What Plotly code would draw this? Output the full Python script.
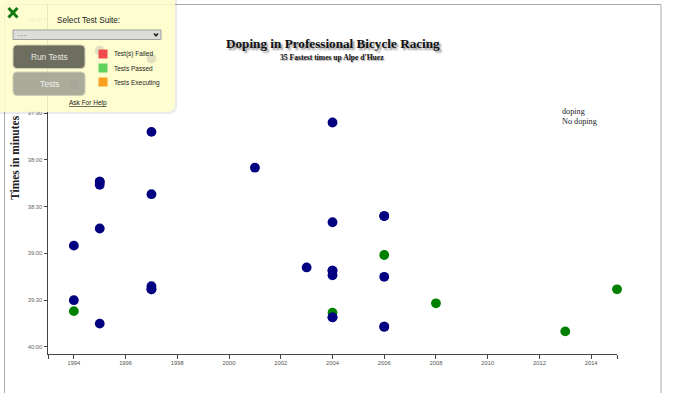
import plotly.graph_objects as go

# ---- data ----
years = [1995, 1997, 1994, 2004, 1997, 2001, 1995, 1995, 1995, 1997,
         2006, 2006, 2004, 1995, 1994, 2006, 2003, 2004, 2004, 2004,
         2006, 1997, 1997, 1997, 2015, 1994, 2008, 1994, 2004, 2004,
         2004, 1995, 2006, 2006, 2013]
times = ["36:50", "36:55", "37:12", "37:36", "37:42", "38:05", "38:14", "38:14", "38:16", "38:22",
         "38:36", "38:36", "38:40", "38:44", "38:55", "39:01", "39:09", "39:11", "39:11", "39:14",
         "39:15", "39:21", "39:23", "39:23", "39:23", "39:30", "39:32", "39:37", "39:38", "39:41",
         "39:41", "39:45", "39:47", "39:47", "39:50"]
doping = [True, True, True, True, True, True, True, True, True, True,
          True, True, True, True, True, False, True, True, True, True,
          True, True, True, True, False, True, False, False, False, True,
          True, True, True, True, False]

x_ticks = [1994, 1996, 1998, 2000, 2002, 2004, 2006, 2008, 2010, 2012, 2014]
y_tick_labels = ["36:30", "37:00", "37:30", "38:00", "38:30", "39:00", "39:30", "40:00"]


def to_sec(t):
    m, s = t.split(":")
    return int(m) * 60 + int(s)


secs = [to_sec(t) for t in times]
y_tick_vals = [to_sec(t) for t in y_tick_labels]

# ---- geometry (pixels) ----
W, H = 700, 393
L, R, T, B = 48, 617, 4, 354


def px(x):
    return (x - L) / (R - L)


def py(y):
    return (B - y) / (B - T)


def rrect(x0, y0, x1, y1, r):
    pts = (f"M {px(x0 + r)},{py(y0)} L {px(x1 - r)},{py(y0)} "
           f"Q {px(x1)},{py(y0)} {px(x1)},{py(y0 + r)} "
           f"L {px(x1)},{py(y1 - r)} Q {px(x1)},{py(y1)} {px(x1 - r)},{py(y1)} "
           f"L {px(x0 + r)},{py(y1)} Q {px(x0)},{py(y1)} {px(x0)},{py(y1 - r)} "
           f"L {px(x0)},{py(y0 + r)} Q {px(x0)},{py(y0)} {px(x0 + r)},{py(y0)} Z")
    return pts


fig = go.Figure()

nd_x = [x for x, d in zip(years, doping) if not d]
nd_y = [s for s, d in zip(secs, doping) if not d]
d_x = [x for x, d in zip(years, doping) if d]
d_y = [s for s, d in zip(secs, doping) if d]

fig.add_trace(go.Scatter(x=nd_x, y=nd_y, mode="markers", name="No doping",
                         marker=dict(color="#008000", size=9.8, line=dict(width=0)),
                         cliponaxis=False))
fig.add_trace(go.Scatter(x=d_x, y=d_y, mode="markers", name="doping",
                         marker=dict(color="#000080", size=9.8, line=dict(width=0)),
                         cliponaxis=False))

shapes = []
# outer frame
shapes.append(dict(type="path", xref="paper", yref="paper",
                   path=f"M {px(4.5)},{py(400)} L {px(4.5)},{py(4.5)} L {px(661)},{py(4.5)} L {px(661)},{py(400)}",
                   line=dict(color="#aaaaaa", width=1), layer="below"))

# test-suite overlay
op = 0.88
shapes.append(dict(type="path", xref="paper", yref="paper",
                   path=(f"M {px(0)},{py(0)} L {px(177)},{py(0)} L {px(177)},{py(106)} "
                         f"Q {px(177)},{py(114)} {px(169)},{py(114)} L {px(0)},{py(114)} Z"),
                   fillcolor="rgba(0,0,0,0.08)", line=dict(width=0), layer="above"))
shapes.append(dict(type="path", xref="paper", yref="paper",
                   path=(f"M {px(0)},{py(0)} L {px(175)},{py(0)} L {px(175)},{py(104)} "
                         f"Q {px(175)},{py(112)} {px(167)},{py(112)} L {px(0)},{py(112)} Z"),
                   fillcolor="#ffffcc", opacity=op, line=dict(width=0), layer="above"))
# close X
shapes.append(dict(type="line", xref="paper", yref="paper", x0=px(8.5), y0=py(8), x1=px(17.5), y1=py(17.5),
                   line=dict(color="#137a13", width=3), layer="above"))
shapes.append(dict(type="line", xref="paper", yref="paper", x0=px(17.5), y0=py(8), x1=px(8.5), y1=py(17.5),
                   line=dict(color="#137a13", width=3), layer="above"))
# dropdown
shapes.append(dict(type="rect", xref="paper", yref="paper", x0=px(13), y0=py(30), x1=px(161), y1=py(39.5),
                   fillcolor="#dcdcd8", line=dict(color="#a0a0a0", width=1), layer="above"))
shapes.append(dict(type="path", xref="paper", yref="paper",
                   path=f"M {px(154)},{py(33.5)} L {px(156)},{py(35.8)} L {px(158)},{py(33.5)}",
                   line=dict(color="#222", width=1.5), layer="above"))
# buttons
shapes.append(dict(type="path", xref="paper", yref="paper", path=rrect(13, 45, 85, 68.5, 4),
                   fillcolor="#5b5b50", opacity=op, line=dict(color="#c8c8b0", width=1), layer="above"))
shapes.append(dict(type="path", xref="paper", yref="paper", path=rrect(13, 72, 85, 95.5, 4),
                   fillcolor="#a0a092", opacity=op, line=dict(color="#c8c8b0", width=1), layer="above"))
# status squares
for yc, col in [(54, "#f04a4a"), (68, "#5ed35e"), (82, "#f9a020")]:
    shapes.append(dict(type="rect", xref="paper", yref="paper", x0=px(98.5), y0=py(yc - 4.5),
                       x1=px(107.5), y1=py(yc + 4.5), fillcolor=col, line=dict(width=0), layer="above"))

annotations = []


def ann(text, x, y, size, family="Liberation Sans", color="#222", xanchor="center", **kw):
    annotations.append(dict(text=text, x=px(x), y=py(y), xref="paper", yref="paper",
                            showarrow=False, xanchor=xanchor, yanchor="middle",
                            font=dict(size=size, family=family, color=color, **kw)))


ann("Select Test Suite:", 88, 20, 8.2)
ann("- - -", 15.5, 35, 5, xanchor="left")
ann("Run Tests", 49, 57, 8.3, color="#e8e8e0")
ann("Tests", 49, 84, 8.3, color="#f0f0f0")
ann("Test(s) Failed", 112, 54.5, 6.5, xanchor="left")
ann("Tests Passed", 112, 68.5, 6.5, xanchor="left")
ann("Tests Executing", 112, 82.5, 6.5, xanchor="left")
ann("<u>Ask For Help</u>", 87.5, 103, 6.5)

# chart text
ann("Doping in Professional Bicycle Racing", 333, 43.5, 13.2, family="Liberation Serif", color="#111",
    weight="bold", shadow="2px 2px 2px rgba(0,0,0,0.45)")
ann("35 Fastest times up Alpe d'Huez", 332, 57.5, 7.6, family="Liberation Serif", color="#111",
    weight="bold", shadow="1px 1px 1px rgba(0,0,0,0.35)")
ann("doping", 560, 111.5, 8.2, family="Liberation Serif", color="#222", xanchor="left")
ann("No doping", 560, 121.5, 8.2, family="Liberation Serif", color="#222", xanchor="left")
annotations.append(dict(text="Times in minutes", x=px(15), y=py(158), xref="paper", yref="paper",
                        showarrow=False, textangle=-90, xanchor="center", yanchor="middle",
                        font=dict(size=11.5, family="Liberation Serif", color="#222", weight="bold")))

fig.update_layout(
    width=W, height=H,
    margin=dict(l=L, r=W - R, t=T, b=H - B),
    paper_bgcolor="white", plot_bgcolor="white",
    showlegend=False,
    shapes=shapes,
    annotations=annotations,
    xaxis=dict(range=[1993, 2015], tickvals=[1993] + x_ticks + [2015],
               ticktext=[""] + [str(v) for v in x_ticks] + [""],
               showgrid=False, zeroline=False, showline=True, linecolor="#444", linewidth=1,
               ticks="outside", ticklen=3.5, tickcolor="#444", tickwidth=1,
               tickfont=dict(size=5.8, family="Liberation Sans", color="#555")),
    yaxis=dict(range=[2404.5, 2180], tickvals=y_tick_vals, ticktext=y_tick_labels,
               showgrid=False, zeroline=False, showline=True, linecolor="#444", linewidth=1,
               ticks="outside", ticklen=3.5, tickcolor="#444", tickwidth=1,
               tickfont=dict(size=5.8, family="Liberation Sans", color="#666")),
)

fig.write_html("out.html", config={"displayModeBar": False},
               post_script="document.body.style.margin='0';document.body.style.overflow='hidden';")
